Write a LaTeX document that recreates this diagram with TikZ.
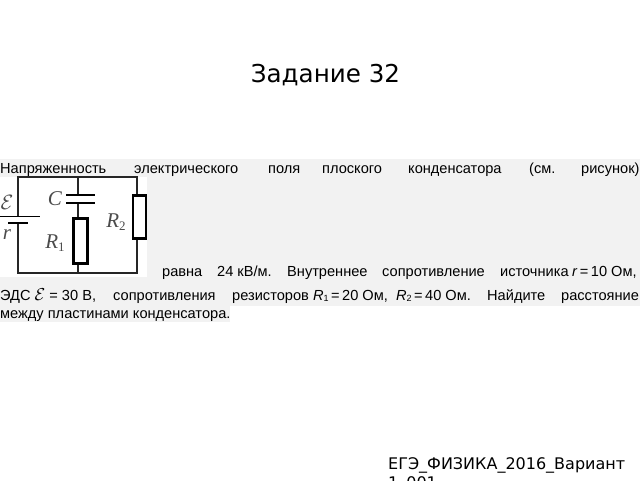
\documentclass[tikz,border=0pt]{standalone}
\usepackage{fontspec}
\setmainfont{Liberation Sans}
\newfontfamily\titlefont{DejaVu Sans}
\newfontfamily\labelfont{Liberation Serif}
\usepackage{tikz}
\definecolor{panelgray}{HTML}{F2F2F2}
\newcommand{\Rsub}[1]{\textit{R}\raisebox{-1.5pt}{\fontsize{9}{10}\selectfont #1}}
\newcommand{\Rlab}[1]{R\raisebox{-3pt}{\upshape\fontsize{13}{14}\selectfont #1}}
\newcommand{\emfsym}{{\fontsize{19}{20}\selectfont$\mathcal{E}$}}

\begin{document}
\begin{tikzpicture}[x=1pt,y=-1pt,
    word/.style={anchor=base west,inner sep=0pt,font=\fontsize{14.6}{16}\selectfont},
    heading/.style={inner sep=0pt,font=\titlefont\fontsize{24.6}{28}\selectfont},
    footer/.style={anchor=west,inner sep=0pt,font=\titlefont\fontsize{16}{18}\selectfont},
    label/.style={inner sep=0pt,font=\labelfont\itshape\fontsize{21}{23}\selectfont,text=black!70},
    resistor/.style={draw,line width=2.2pt,inner sep=0pt,fill=white},
    wire/.style={line width=1.3pt,black!85},
    plate/.style={line width=2.5pt}]
  \useasboundingbox (0,0) rectangle (640,480);
  \clip (0,0) rectangle (640,480);
  \fill[white] (0,0) rectangle (640,480);
  % gray panel of the scanned text
  \fill[panelgray] (0,159) rectangle (640,306);
  \fill[panelgray] (0,306) rectangle (230,322);
  \fill[white] (0,177) rectangle (147,277);

  \node[heading] (title) at (325.5,75) {Задание 32};

  % first line
  \node[word] (w1) at (0,173) {Напряженность};
  \node[word] (w2) at (134,173) {электрического};
  \node[word] (w3) at (268,173) {поля};
  \node[word] (w4) at (322,173) {плоского};
  \node[word] (w5) at (408,173) {конденсатора};
  \node[word] (w6) at (529,173) {(см.};
  \node[word] (w7) at (581,173) {рисунок)};
  % second line
  \node[word] (w8) at (162,276) {равна};
  \node[word] (w9) at (217,276) {24 кВ/м.};
  \node[word] (w10) at (287,276) {Внутреннее};
  \node[word] (w11) at (382,276) {сопротивление};
  \node[word] (w12) at (500,276) {источника};
  \node[word] (w13) at (572,276) {\textit{r}\,=\,10 Ом,};
  % third line
  \node[word] (w14) at (0,300) {ЭДС \emfsym{} = 30 В,};
  \node[word] (w15) at (113,300) {сопротивления};
  \node[word] (w16) at (232,300) {резисторов};
  \node[word] (w17) at (313,300) {\Rsub{1}\,=\,20 Ом,};
  \node[word] (w18) at (396,300) {\Rsub{2}\,=\,40 Ом.};
  \node[word] (w19) at (487,300) {Найдите};
  \node[word] (w20) at (561,300) {расстояние};
  % last line
  \node[word] (w21) at (0,318) {между пластинами конденсатора.};

  % circuit
  \coordinate (tl) at (18,177);
  \coordinate (tm) at (78,177);
  \coordinate (tr) at (137,177);
  \coordinate (bl) at (18,273);
  \coordinate (bm) at (78,273);
  \coordinate (br) at (137,273);
  \coordinate (platelong) at (18,216);
  \coordinate (plateshort) at (18,223);
  \coordinate (capa) at (78,195);
  \coordinate (capb) at (78,203);
  \node[resistor,minimum width=14pt,minimum height=45pt] (R1) at (80.5,241) {};
  \node[resistor,minimum width=13pt,minimum height=43pt] (R2) at (139.5,217) {};

  \draw[wire] (platelong) -- (tl) -- (tr) -- (tr |- R2.north);
  \draw[wire] (R2.south -| tr) -- (br) -- (bl) -- (plateshort);
  \draw[wire] (tm) -- (capa);
  \draw[wire] (capb) -- (R1.north -| capb);
  \draw[wire] (R1.south -| bm) -- (bm);
  \draw[line width=0.9pt] (0,216) -- (40,216);
  \draw[plate] (8,223) -- (28,223);
  \draw[plate] (66,195) -- (95,195);
  \draw[plate] (66,203) -- (95,203);

  \node[label] (emf) at (7,202) {$\mathcal{E}$};
  \node[label] (rint) at (7,235) {r};
  \node[label] (cap) at (55,199) {C};
  \node[label] (r1lab) at (55,243) {\Rlab{1}};
  \node[label] (r2lab) at (116,222) {\Rlab{2}};

  \node[footer] (foot1) at (388,465) {ЕГЭ\_ФИЗИКА\_2016\_Вариант};
  \node[footer] (foot2) at (388,484) {1\_001};
\end{tikzpicture}
\end{document}
